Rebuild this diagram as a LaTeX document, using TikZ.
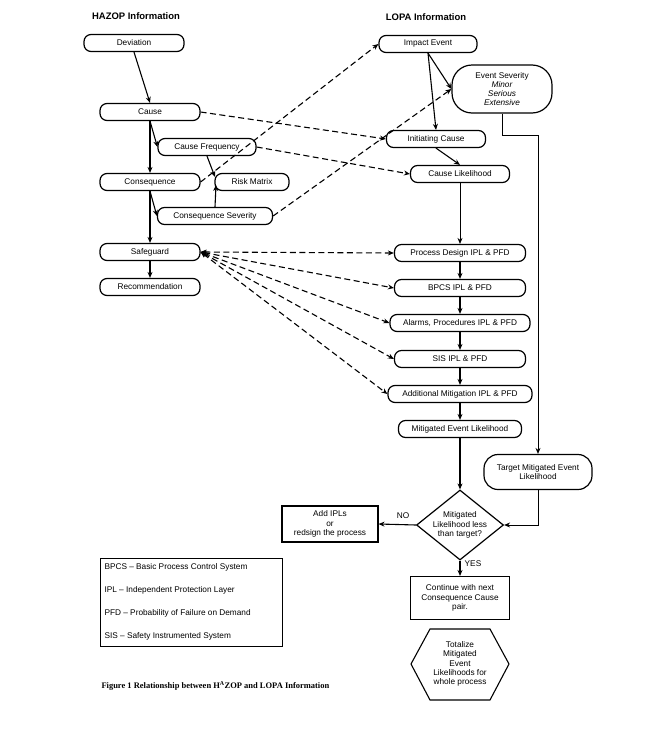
\documentclass[tikz,border=0pt]{standalone}
\usepackage{fontspec}
\setmainfont{Liberation Sans}
\usetikzlibrary{arrows.meta,shapes.geometric}
\begin{document}
\begin{tikzpicture}[x=1bp,y=-1bp,
  font=\fontsize{8.3}{9.2}\selectfont,
  box/.style={draw,line width=1.2pt,rounded corners=7bp,minimum height=17bp,inner sep=1bp,align=center},
  sq/.style={draw,line width=1.1pt,align=center,inner sep=1bp},
  ar/.style={line width=1.1pt,-{Stealth[length=6bp,width=5bp]}},
  da/.style={ar,dash pattern=on 6bp off 3.5bp},
  tit/.style={font=\fontsize{9.5}{11}\selectfont\bfseries}]
\useasboundingbox[fill=white] (0,0) rectangle (657,756);
\node[tit] (th) at (136,16) {HAZOP Information};
\node[tit] (tl) at (426,17) {LOPA Information};
\node[box,minimum width=100bp] (dev) at (134,43) {Deviation};
\node[box,minimum width=100bp] (cau) at (150,112) {Cause};
\node[box,minimum width=98bp] (cf) at (207,147) {Cause Frequency};
\node[box,minimum width=100bp] (con) at (150,182) {Consequence};
\node[box,minimum width=74bp] (rm) at (252,182) {Risk Matrix};
\node[box,minimum width=115bp] (cs) at (215,216) {Consequence Severity};
\node[box,minimum width=100bp] (sg) at (150,252) {Safeguard};
\node[box,minimum width=100bp] (rec) at (150,287) {Recommendation};
\node[box,minimum width=98bp] (ie) at (428,44) {Impact Event};
\node[box,minimum width=100bp,minimum height=48bp,rounded corners=20bp] (es) at (502,89) {Event Severity\\\itshape Minor\\\itshape Serious\\\itshape Extensive};
\node[box,minimum width=99bp] (ic) at (436,139) {Initiating Cause};
\node[box,minimum width=99bp] (cl) at (460,174) {Cause Likelihood};
\node[box,minimum width=131bp] (pd) at (460,253) {Process Design IPL \& PFD};
\node[box,minimum width=131bp] (bp) at (460,288) {BPCS IPL \& PFD};
\node[box,minimum width=140bp] (al) at (460,323) {Alarms, Procedures IPL \& PFD};
\node[box,minimum width=131bp] (sis) at (460,359) {SIS IPL \& PFD};
\node[box,minimum width=144bp] (am) at (460,394) {Additional Mitigation IPL \& PFD};
\node[box,minimum width=123bp] (mel) at (460,429) {Mitigated Event Likelihood};
\node[box,minimum width=108bp,minimum height=35bp,rounded corners=14bp] (tm) at (538,472) {Target Mitigated Event\\Likelihood};
\node[draw,line width=1.2pt,diamond,aspect=1.25,minimum width=87bp,minimum height=70bp,inner sep=0pt,align=center] (dm) at (460,525) {Mitigated\\Likelihood less\\than target?};
\node[sq,minimum width=96bp,minimum height=36bp] (add) at (330,524) {Add IPLs\\or\\redsign the process};
\node[sq,minimum width=99bp,minimum height=43bp] (cont) at (460,598) {Continue with next\\Consequence Cause\\pair.};
\node[align=center] (hex) at (460,664) {Totalize\\Mitigated\\Event\\Likelihoods for\\whole process};
\draw[line width=1.1pt] (411,664) -- (430,629) -- (490,629) -- (509,664) -- (490,700) -- (430,700) -- cycle;
\node[sq,minimum width=182bp,minimum height=88bp,anchor=north west] (leg) at (100,558) {};
\node[anchor=west] (l1) at (101,567) {BPCS -- Basic Process Control System};
\node[anchor=west] (l2) at (101,590) {IPL -- Independent Protection Layer};
\node[anchor=west] (l3) at (101,613) {PFD -- Probability of Failure on Demand};
\node[anchor=west] (l4) at (101,636) {SIS -- Safety Instrumented System};
\node[anchor=west] (cap) at (98,686) {\setmainfont{Liberation Serif}\fontsize{8.5}{10}\selectfont\bfseries Figure 1 Relationship between H\textsuperscript{A}ZOP and LOPA Information};
\node (no) at (403,516) {NO};
\node (yes) at (473,564) {YES};
\coordinate (rmA) at (215,177);
\coordinate (rmB) at (216,185);
\draw[ar] (dev.south) -- (cau.north);
\draw[ar] (cau.south) -- (con.north);
\draw[ar] (cau.south) -- (cf.west);
\draw[ar] (con.south) -- (sg.north);
\draw[ar] (con.south) -- (cs.west);
\draw[ar] (sg.south) -- (rec.north);
\draw[ar] (cf.south) -- (rmA);
\draw[ar] (cs.north) -- (rmB);
\draw[ar] (ie.south) -- (ic.north);
\draw[ar] (ie.south) -- (es.west);
\draw[ar] (ic.south) -- (cl.north);
\draw[ar,line width=0.8pt] (cl) -- (pd);
\draw[ar] (pd) -- (bp);
\draw[ar] (bp) -- (al);
\draw[ar] (al) -- (sis);
\draw[ar] (sis) -- (am);
\draw[ar] (am) -- (mel);
\draw[ar] (mel) -- (dm.north);
\draw[ar,line width=0.9pt] (es.south) |- (538,135) -- (tm.north);
\draw[ar,line width=0.9pt] (tm.south) |- (dm.east);
\draw[ar] (dm.west) -- (add.east);
\draw[ar] (dm.south) -- (cont.north);
\draw[da] (cau.east) -- (ic.west);
\draw[da] (cf.east) -- (cl.west);
\draw[da] (con.east) -- (ie.west);
\draw[da] (cs.east) -- (es.west);
\foreach \t in {pd,bp,al,sis,am}{
  \draw[da,{Stealth[length=6bp,width=5bp]}-{Stealth[length=6bp,width=5bp]}] (sg.east) -- (\t.west);
}
\end{tikzpicture}
\end{document}
